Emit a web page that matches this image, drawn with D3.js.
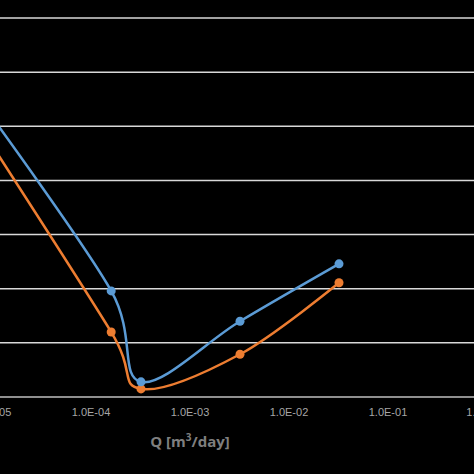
<!DOCTYPE html><html><head><meta charset="utf-8">
<script src="https://cdn.jsdelivr.net/npm/d3@7"></script>
<style>body{margin:0;background:#000}</style></head><body>
<svg id="c" width="474" height="474"></svg>
<script>
const qValues=[1e-5,1.6e-4,3.2e-4,3.2e-3,3.2e-2];
const blue=[5.17,1.96,0.28,1.40,2.46];
const orange=[4.65,1.20,0.15,0.79,2.11];
const xTicks=[1e-5,1e-4,1e-3,1e-2,1e-1,1];
const xTickLabels=["1.0E-05","1.0E-04","1.0E-03","1.0E-02","1.0E-01","1.0E+00"];
const yGrid=[1,2,3,4,5,6,7];
const svg=d3.select("#c");
const x=d3.scaleLog().domain([1e-5,1]).range([-8,487]);
const y=d3.scaleLinear().domain([0,7]).range([397,18]);
svg.append("rect").attr("width",474).attr("height",474).attr("fill","#000");
svg.selectAll(".g").data(yGrid).join("line").attr("x1",0).attr("x2",474)
 .attr("y1",d=>y(d)).attr("y2",d=>y(d)).attr("stroke","#d9d9d9").attr("stroke-width",1.5);
svg.append("line").attr("x1",0).attr("x2",474).attr("y1",y(0)).attr("y2",y(0)).attr("stroke","#bfbfbf").attr("stroke-width",1.5);
svg.selectAll(".t").data(xTicks).join("text").attr("x",d=>x(d)).attr("y",416)
 .attr("text-anchor","middle").attr("fill","#a6a6a6").attr("font-family","Liberation Sans, Arial").attr("font-size",11)
 .text((d,i)=>xTickLabels[i]);
svg.append("text").attr("x",190).attr("y",447).attr("text-anchor","middle").attr("fill","#7f7f7f")
 .attr("font-family","Open Sans, Liberation Sans").attr("font-weight","bold").attr("font-size",15)
 .html('Q [m<tspan dy="-6" font-size="10">3</tspan><tspan dy="6">/day]</tspan>');
const line=d3.line().x(d=>x(d[0])).y(d=>y(d[1])).curve(d3.curveCardinal.tension(0));
[[orange,"#ed7d31"],[blue,"#5b9bd5"]].forEach(([s,c])=>{
 const pts=qValues.map((q,i)=>[q,s[i]]);
 svg.append("path").datum(pts).attr("d",line).attr("fill","none").attr("stroke",c).attr("stroke-width",2.5);
 svg.selectAll(null).data(pts).join("circle").attr("cx",d=>x(d[0])).attr("cy",d=>y(d[1])).attr("r",4.5).attr("fill",c);
});
</script></body></html>
